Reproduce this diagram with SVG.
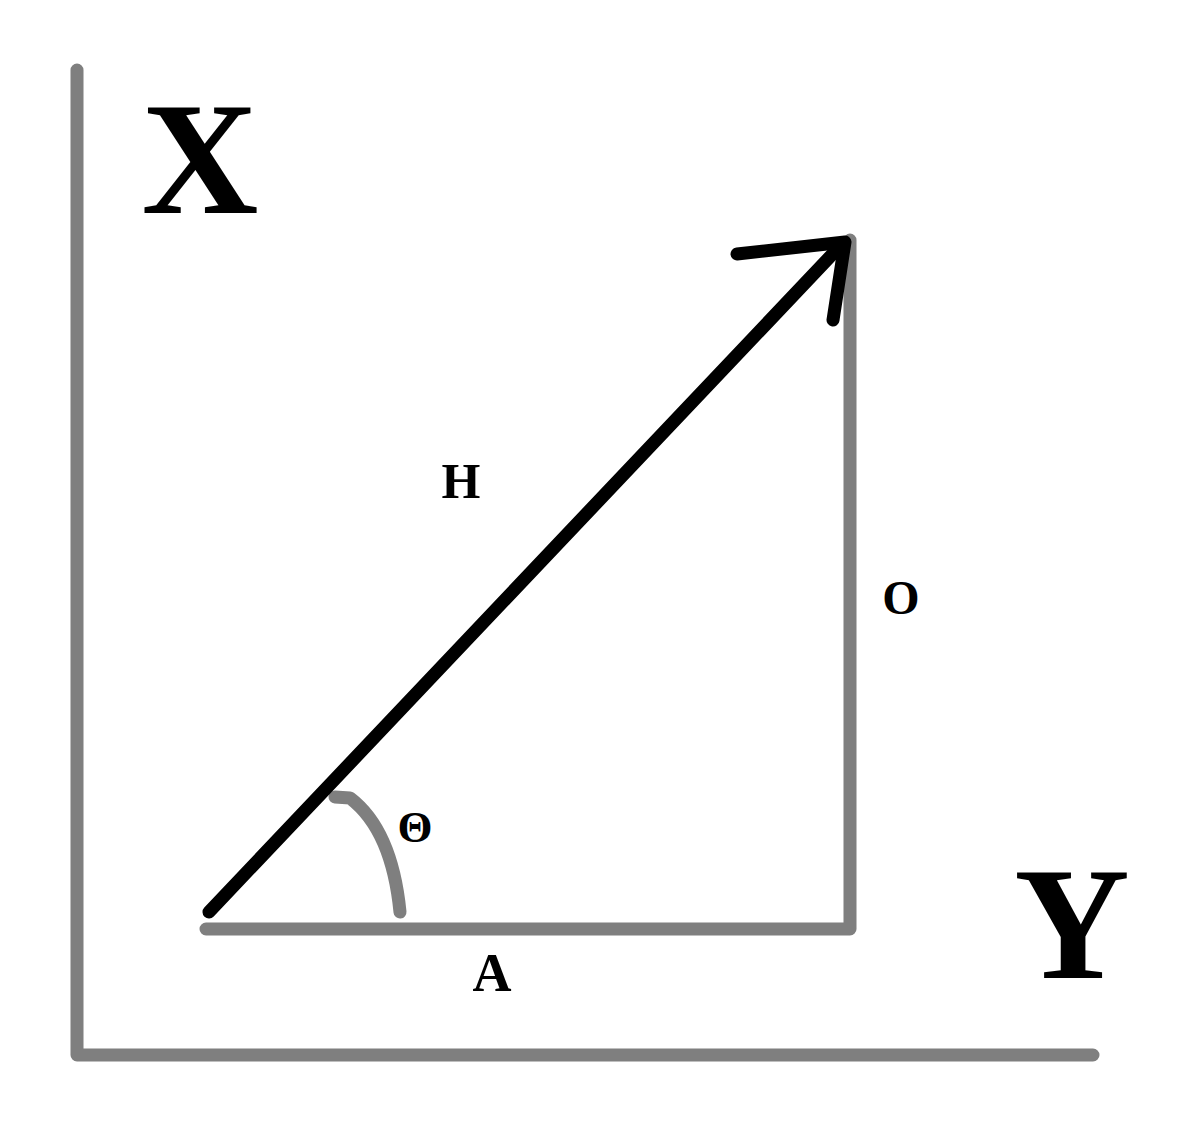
<svg xmlns="http://www.w3.org/2000/svg" width="1200" height="1144" viewBox="0 0 1200 1144">
<style>
.gray{stroke:#7f7f7f;stroke-width:13;fill:none;stroke-linecap:round;stroke-linejoin:round}
.blk{stroke:#000;stroke-width:13;fill:none;stroke-linecap:round;stroke-linejoin:round}
.lbl{font-family:"Liberation Serif","Times New Roman",serif;font-weight:bold;fill:#000;text-anchor:middle}
</style>
<rect width="1200" height="1144" fill="#fff"/>
<g id="axes">
<path class="gray" d="M77 70 L77 1055 L1093 1055"/>
</g>
<g id="triangle">
<path class="gray" d="M206 929 L850 929 L850 240"/>
<path class="gray" d="M335 797 L350 798 Q392 830 400 912" stroke-width="6"/>
</g>
<g id="connectors">
<path class="blk" d="M209 912 L843 243"/>
<path class="blk" d="M737 254 L845 242 L833 320"/>
</g>
<g id="labels">
<text class="lbl" x="200" y="213" font-size="162">X</text>
<text class="lbl" x="1072" y="978" font-size="160">Y</text>
<text class="lbl" x="461" y="498" font-size="50">H</text>
<text class="lbl" x="901" y="614" font-size="48">O</text>
<text class="lbl" x="415" y="842" font-size="45">Θ</text>
<text class="lbl" x="492" y="991" font-size="54">A</text>
</g>
</svg>
